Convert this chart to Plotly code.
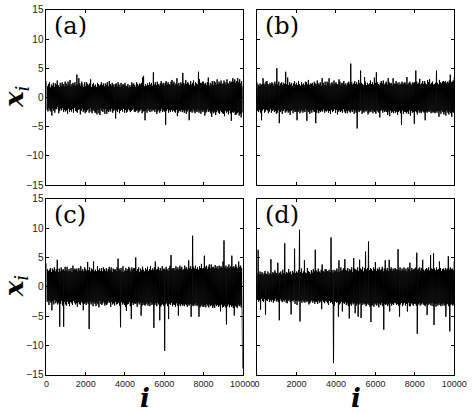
import plotly.graph_objects as go

# sample index i (every 25 steps)
idx = list(range(0, 10001, 25))

series_a = [
    2.8, -2.1, 1.9, -2.4, 2.3, -1.8, 2.6, -2.2, 1.7, -2.4, 2.2, -3.1, 2.0, -1.9, 2.5, -2.3, 1.8, -2.6, 2.4, -2.0,
    2.2, -2.0, 2.9, -1.6, 2.1, -2.7, 1.8, -2.3, 2.5, -1.9, 2.0, -2.2, 2.6, -1.8, 2.3, -2.5, 1.9, -2.1, 2.7, -2.4,
    2.4, -2.2, 2.0, -2.8, 2.7, -1.9, 2.2, -2.5, 3.0, -2.1, 1.9, -2.4, 2.3, -2.0, 2.5, -2.6, 2.1, -1.8, 2.6, -2.3,
    2.0, -2.4, 3.9, -2.6, 2.2, -2.1, 3.3, -2.0, 2.4, -2.9, 2.0, -2.3, 2.7, -1.9, 2.2, -2.5, 1.8, -2.2, 2.6, -2.7,
    1.9, -2.5, 2.6, -2.2, 2.3, -2.0, 2.1, -2.6, 2.4, -1.8, 3.1, -2.4, 1.8, -2.7, 2.3, -2.1, 2.5, -2.3, 2.0, -2.6,
    2.2, -2.6, 1.8, -2.9, 2.5, -2.1, 2.3, -2.7, 2.0, -3.0, 2.2, -1.9, 2.6, -2.3, 2.1, -2.5, 2.4, -2.0, 1.9, -2.8,
    2.4, -2.0, 2.1, -2.8, 2.6, -2.3, 1.9, -2.5, 2.8, -2.1, 2.3, -2.4, 2.0, -1.9, 2.5, -2.6, 2.2, -2.3, 1.8, -2.1,
    2.3, -3.6, 2.4, -2.2, 1.9, -2.5, 2.6, -2.0, 2.2, -2.7, 1.8, -2.3, 2.5, -2.1, 2.0, -2.4, 2.3, -1.9, 2.1, -2.6,
    2.5, -2.1, 2.0, -2.6, 1.9, -2.4, 2.3, -2.0, 1.7, -2.2, 2.1, -2.5, 1.8, -2.3, 2.6, -2.1, 2.2, -1.9, 2.4, -2.4,
    2.1, -2.5, 1.8, -2.3, 2.6, -2.1, 2.3, -2.6, 2.0, -2.4, 2.4, -2.2, 2.2, -2.0, 2.5, -2.7, 3.4, -2.4, 3.7, -2.3,
    1.9, -3.9, 2.3, -2.2, 2.0, -2.6, 2.4, -1.9, 2.1, -2.3, 2.6, -2.5, 2.2, -2.0, 2.5, -2.4, 2.0, -2.1, 4.3, -2.2,
    2.2, -2.5, 2.6, -2.0, 2.1, -2.8, 2.7, -2.4, 2.3, -2.1, 2.0, -2.6, 2.4, -2.3, 2.8, -1.9, 2.2, -2.5, 2.5, -2.2,
    2.0, -2.4, 2.5, -4.7, 2.8, -2.3, 2.2, -2.0, 2.6, -2.6, 2.3, -2.2, 2.1, -2.5, 2.7, -2.1, 3.0, -2.4, 2.4, -2.2,
    2.7, -2.4, 2.1, -2.6, 2.4, -2.1, 3.3, -3.2, 2.2, -2.6, 2.5, -2.3, 2.0, -2.4, 2.6, -2.1, 2.3, -2.5, 4.2, -2.2,
    2.5, -2.6, 2.2, -2.2, 3.0, -2.8, 2.3, -2.4, 2.6, -2.1, 2.4, -3.9, 2.1, -2.5, 2.8, -2.3, 2.2, -2.6, 2.5, -2.0,
    2.9, -2.4, 2.0, -2.7, 2.6, -2.3, 2.4, -2.5, 2.2, -2.1, 4.4, -2.6, 3.1, -2.3, 2.5, -2.8, 2.4, -2.2, 2.7, -2.5,
    2.7, -2.2, 2.3, -3.1, 2.5, -2.6, 2.1, -2.4, 2.6, -2.0, 3.4, -2.5, 2.0, -2.3, 2.5, -2.7, 2.2, -3.3, 2.8, -2.4,
    2.1, -2.7, 2.8, -2.4, 2.6, -3.0, 2.2, -2.5, 3.1, -2.2, 2.3, -2.6, 2.7, -2.8, 2.4, -2.3, 2.9, -2.5, 2.3, -2.7,
    2.4, -2.8, 2.9, -3.2, 2.6, -2.3, 2.2, -2.6, 3.1, -2.4, 2.5, -2.9, 2.3, -2.2, 2.8, -2.7, 2.5, -4.0, 2.7, -2.5,
    3.3, -2.6, 2.7, -2.4, 3.1, -3.0, 2.5, -2.9, 2.8, -2.7, 3.3, -2.5, 2.6, -3.1, 3.1, -2.8, 2.4, -3.4, 2.8, -2.6,
    2.0,
]

series_b = [
    2.6, -2.3, 2.2, -2.5, 2.0, -2.1, 2.4, -2.6, 2.1, -3.9, 2.3, -2.2, 3.3, -2.0, 2.4, -2.6, 2.2, -2.4, 2.7, -2.1,
    2.8, -2.2, 2.3, -2.7, 2.1, -2.4, 2.5, -2.0, 2.2, -2.6, 2.6, -2.3, 2.4, -2.1, 2.0, -2.5, 2.7, -2.3, 2.3, -2.8,
    5.0, -2.6, 2.2, -2.1, 2.7, -4.4, 2.0, -2.5, 2.4, -2.2, 2.6, -2.8, 2.1, -2.3, 2.5, -2.0, 2.3, -2.6, 4.4, -2.4,
    2.3, -2.2, 3.4, -2.6, 2.1, -2.4, 2.6, -3.0, 2.2, -2.3, 2.5, -2.1, 2.0, -2.7, 2.4, -2.2, 2.8, -2.5, 2.2, -2.4,
    2.5, -3.9, 2.1, -2.5, 2.8, -2.2, 2.3, -2.7, 2.0, -2.4, 2.6, -2.1, 2.2, -2.6, 2.4, -2.3, 2.1, -2.5, 2.7, -2.0,
    2.6, -4.0, 2.2, -2.3, 3.0, -2.5, 2.1, -2.8, 2.4, -2.2, 2.3, -2.6, 2.5, -2.1, 2.0, -2.4, 2.7, -2.5, 2.4, -4.4,
    2.2, -2.6, 2.9, -2.1, 2.4, -2.7, 2.2, -2.3, 2.6, -2.5, 2.0, -2.2, 3.3, -2.4, 2.5, -2.0, 2.1, -2.6, 2.7, -2.3,
    2.1, -2.4, 2.7, -2.2, 2.5, -2.6, 3.3, -2.3, 2.0, -2.8, 2.4, -2.1, 2.6, -2.5, 2.2, -2.3, 2.9, -2.0, 2.3, -2.6,
    2.6, -2.1, 2.3, -2.9, 2.2, -2.4, 3.1, -2.2, 2.7, -2.5, 2.1, -2.3, 2.5, -2.6, 2.4, -2.0, 2.8, -2.4, 2.2, -2.7,
    2.4, -2.3, 2.0, -2.7, 2.5, -2.2, 2.7, -2.4, 2.3, -2.6, 5.8, -2.2, 2.6, -2.5, 2.2, -2.1, 2.4, -2.8, 2.8, -2.3,
    2.3, -2.6, 2.6, -5.3, 2.2, -2.2, 3.0, -2.5, 2.4, -2.3, 4.6, -2.1, 2.5, -2.8, 2.3, -2.4, 2.1, -2.6, 3.5, -2.2,
    2.7, -2.4, 2.1, -2.2, 2.5, -2.9, 2.2, -2.6, 2.4, -2.3, 2.9, -2.5, 2.3, -2.1, 2.6, -2.7, 2.2, -2.3, 3.4, -2.5,
    2.5, -2.8, 4.3, -2.2, 2.6, -2.4, 2.3, -2.6, 2.1, -3.4, 2.5, -2.3, 2.8, -2.1, 2.4, -2.6, 2.9, -2.2, 2.2, -2.5,
    2.4, -2.3, 2.7, -2.5, 2.2, -3.0, 3.3, -2.4, 2.6, -3.2, 2.3, -2.2, 2.5, -2.6, 2.1, -2.4, 3.3, -2.7, 2.4, -2.3,
    2.3, -2.6, 2.8, -2.4, 2.5, -3.0, 2.2, -2.5, 2.6, -2.3, 2.1, -2.7, 2.4, -4.7, 2.7, -2.2, 2.3, -2.8, 2.5, -2.4,
    2.6, -2.5, 2.3, -2.7, 3.5, -2.4, 2.2, -2.8, 2.5, -2.2, 2.7, -3.1, 2.4, -2.3, 2.1, -2.6, 2.6, -2.5, 2.4, -4.5,
    2.6, -2.3, 4.6, -2.5, 2.7, -2.9, 2.3, -2.2, 2.5, -2.6, 3.2, -2.4, 2.2, -2.7, 2.4, -2.3, 2.8, -2.5, 2.3, -2.6,
    2.8, -3.9, 2.4, -2.4, 2.2, -2.6, 3.0, -2.3, 2.6, -2.5, 3.1, -2.2, 2.3, -2.7, 2.5, -2.4, 2.7, -2.6, 2.2, -2.5,
    2.3, -2.7, 2.5, -2.4, 4.6, -2.6, 2.5, -2.3, 2.2, -3.3, 3.0, -2.4, 2.6, -2.8, 2.4, -2.2, 2.7, -2.5, 2.8, -2.9,
    2.6, -2.5, 2.8, -3.1, 2.4, -2.2, 2.7, -2.6, 2.5, -2.9, 2.9, -2.4, 3.9, -2.7, 2.6, -3.3, 2.7, -2.5, 2.9, -2.6,
    3.5,
]

series_c = [
    4.0, -2.6, 3.0, -2.3, 2.7, -3.1, 2.9, -2.4, 3.2, -2.7, 2.5, -4.0, 3.1, -2.5, 2.8, -3.0, 3.3, -2.2, 2.6, -2.8,
    3.0, -2.5, 4.6, -3.0, 2.5, -2.7, 3.1, -6.8, 2.6, -2.9, 3.3, -2.4, 2.8, -3.2, 3.0, -6.8, 2.7, -2.6, 3.4, -3.0,
    2.8, -3.2, 3.4, -2.5, 2.6, -2.9, 3.0, -3.3, 2.7, -2.6, 3.2, -2.8, 2.5, -3.1, 3.6, -2.4, 2.9, -2.7, 3.1, -3.0,
    2.9, -2.8, 3.1, -3.4, 2.6, -2.6, 3.2, -2.9, 2.8, -3.1, 3.5, -2.5, 2.7, -2.8, 3.0, -4.0, 2.6, -2.9, 3.3, -2.7,
    3.0, -3.1, 2.7, -2.6, 4.2, -2.9, 2.8, -7.2, 3.3, -2.5, 2.6, -3.0, 3.1, -2.7, 2.9, -3.3, 4.3, -2.6, 2.7, -2.9,
    2.9, -3.3, 2.6, -2.7, 3.5, -3.0, 2.8, -3.5, 3.1, -2.4, 2.7, -2.9, 3.2, -3.1, 2.6, -2.8, 3.3, -2.5, 3.0, -3.2,
    2.7, -2.9, 3.2, -3.1, 2.6, -2.8, 3.0, -2.5, 3.4, -2.7, 2.8, -3.4, 3.3, -2.6, 2.5, -3.0, 3.1, -2.8, 2.9, -3.2,
    3.0, -2.6, 2.7, -3.0, 3.3, -2.9, 4.8, -2.7, 3.1, -3.2, 2.8, -6.9, 3.2, -2.6, 2.6, -3.0, 3.5, -2.8, 2.5, -3.1,
    2.8, -3.4, 3.2, -4.1, 2.7, -3.0, 3.0, -2.9, 3.4, -2.6, 3.1, -3.3, 2.6, -5.5, 3.3, -2.7, 2.9, -3.1, 3.2, -2.8,
    3.2, -2.9, 5.0, -2.8, 2.7, -3.4, 3.0, -2.6, 3.3, -3.0, 2.5, -2.7, 3.1, -4.9, 2.8, -3.2, 3.4, -2.8, 2.9, -3.1,
    2.6, -3.2, 3.2, -3.0, 2.9, -2.7, 3.4, -3.2, 2.7, -2.9, 3.0, -3.3, 3.5, -2.6, 2.8, -3.1, 3.1, -2.9, 2.9, -7.0,
    3.3, -3.1, 4.3, -2.8, 2.9, -3.3, 3.0, -2.7, 3.4, -3.0, 2.8, -5.7, 3.2, -3.4, 2.7, -3.1, 3.5, -2.9, 3.0, -3.2,
    3.1, -10.9, 2.9, -3.0, 3.4, -2.8, 3.0, -3.3, 2.7, -5.5, 3.2, -2.9, 3.6, -3.1, 5.4, -2.7, 3.0, -3.3, 3.2, -3.0,
    3.2, -3.1, 2.8, -3.4, 3.5, -2.8, 3.0, -3.2, 3.3, -4.9, 2.9, -3.0, 3.6, -3.3, 3.1, -2.9, 3.4, -3.2, 2.8, -3.0,
    3.0, -3.3, 3.6, -2.9, 3.1, -3.1, 3.3, -3.4, 2.9, -3.0, 4.5, -3.2, 3.2, -2.9, 3.5, -5.1, 3.0, -3.1, 8.7, -3.3,
    3.4, -3.0, 3.1, -3.2, 3.6, -2.8, 3.0, -3.3, 3.3, -3.1, 2.9, -5.1, 3.5, -3.5, 3.2, -3.3, 3.9, -3.0, 3.1, -3.4,
    3.2, -3.4, 5.3, -3.1, 3.3, -3.5, 3.6, -2.9, 3.0, -3.2, 3.4, -3.5, 3.8, -3.0, 3.1, -3.3, 3.8, -3.1, 3.3, -3.6,
    3.4, -3.2, 3.1, -3.6, 3.7, -3.0, 3.2, -3.3, 3.5, -3.1, 3.0, -3.4, 3.6, -3.2, 3.3, -4.2, 3.5, -3.0, 3.2, -3.5,
    4.3, -3.4, 7.9, -3.2, 3.3, -3.5, 3.6, -6.4, 3.1, -3.3, 3.4, -3.0, 3.8, -3.5, 3.2, -3.1, 3.5, -3.4, 5.3, -3.2,
    3.3, -3.6, 3.5, -4.9, 3.2, -3.2, 3.8, -3.4, 3.4, -3.6, 3.1, -3.0, 4.3, -3.3, 3.4, -3.1, 3.6, -3.5, 3.2, -3.8,
    -13.9,
]

series_d = [
    2.4, -2.2, 6.3, -2.5, 2.1, -2.3, 2.6, -3.9, 2.2, -2.0, 2.5, -2.4, 2.0, -2.6, 2.3, -2.1, 2.7, -4.8, 2.2, -2.3,
    2.2, -2.4, 2.6, -2.1, 2.0, -2.6, 2.3, -2.3, 4.7, -2.5, 2.1, -2.2, 2.5, -2.7, 2.3, -2.4, 2.8, -2.0, 2.4, -2.5,
    2.3, -2.3, 4.1, -2.6, 2.2, -5.7, 2.4, -2.1, 2.6, -2.4, 2.1, -2.6, 2.9, -2.3, 2.3, -2.5, 7.4, -2.2, 2.2, -2.7,
    2.5, -2.8, 2.3, -2.4, 3.0, -2.2, 2.4, -2.6, 2.6, -4.7, 2.1, -2.3, 2.7, -2.5, 2.4, -2.2, 6.5, -2.9, 2.3, -2.4,
    2.6, -3.1, 2.4, -2.3, 2.8, -2.5, 9.7, -5.9, 2.5, -2.4, 3.1, -2.7, 2.3, -2.2, 2.6, -2.6, 4.5, -2.7, 2.4, -2.3,
    2.3, -2.6, 3.2, -2.4, 2.7, -3.0, 2.5, -2.8, 2.2, -2.5, 2.8, -2.3, 2.4, -2.7, 3.0, -2.4, 2.6, -2.9, 6.3, -2.5,
    2.8, -2.6, 2.5, -2.9, 3.1, -2.4, 2.6, -2.7, 2.4, -2.5, 2.9, -3.8, 3.8, -2.3, 2.7, -2.6, 2.5, -2.8, 3.0, -2.4,
    3.0, -2.5, 2.7, -2.8, 2.6, -3.1, 2.9, -2.4, 2.5, -2.7, 8.4, -2.6, 2.8, -2.9, 2.4, -13.0, 2.9, -3.2, 2.6, -2.5,
    2.8, -2.7, 3.1, -2.6, 2.5, -5.1, 4.5, -3.0, 2.6, -2.8, 3.3, -2.5, 2.7, -4.2, 2.9, -2.7, 3.2, -2.9, 4.7, -2.6,
    2.9, -3.1, 2.7, -2.8, 3.2, -3.3, 2.6, -5.4, 3.0, -2.9, 2.8, -3.2, 3.3, -2.7, 2.5, -3.0, 4.9, -2.8, 3.1, -4.5,
    3.0, -3.2, 2.8, -2.9, 3.3, -5.1, 2.7, -3.0, 4.6, -2.8, 3.1, -5.3, 2.9, -3.1, 3.4, -2.7, 2.6, -3.0, 3.2, -2.9,
    6.0, -3.3, 2.9, -3.0, 3.2, -2.8, 7.7, -3.1, 2.8, -3.4, 3.2, -6.0, 3.0, -3.2, 2.7, -3.1, 3.3, -3.4, 3.0, -2.8,
    4.2, -3.0, 2.7, -3.2, 3.1, -2.8, 2.9, -3.5, 3.3, -2.9, 2.8, -3.1, 3.0, -2.7, 3.4, -3.3, 2.6, -7.3, 3.1, -2.9,
    4.5, -3.1, 2.8, -2.9, 3.2, -3.3, 2.7, -3.0, 4.6, -4.2, 3.0, -2.8, 3.3, -3.2, 2.7, -2.9, 3.1, -3.1, 2.9, -2.7,
    3.2, -2.8, 3.0, -3.1, 2.8, -2.9, 6.4, -3.2, 2.9, -5.1, 3.3, -3.0, 2.7, -2.7, 3.1, -3.3, 2.8, -3.0, 3.3, -2.7,
    2.8, -3.2, 3.1, -2.9, 2.6, -4.2, 3.3, -2.7, 3.0, -3.3, 4.1, -3.3, 2.7, -2.8, 3.2, -3.0, 2.9, -3.2, 3.0, -2.9,
    3.1, -2.9, 3.3, -3.2, 5.8, -8.0, 2.9, -3.0, 3.1, -2.8, 3.3, -3.2, 2.8, -3.0, 3.2, -2.7, 4.6, -3.0, 2.9, -3.1,
    2.7, -3.3, 3.0, -2.9, 3.2, -4.8, 2.9, -3.1, 3.3, -2.8, 2.8, -3.0, 5.4, -3.2, 3.1, -2.7, 3.0, -3.3, 5.7, -6.5,
    3.1, -2.9, 2.8, -3.4, 3.3, -3.0, 2.9, -3.2, 3.0, -2.8, 4.3, -3.1, 3.2, -3.3, 2.7, -2.9, 3.0, -3.2, 3.1, -2.8,
    2.8, -3.2, 3.2, -5.1, 2.9, -3.0, 3.1, -2.9, 5.2, -3.3, 2.9, -7.6, 3.3, -3.1, 3.0, -2.9, 3.1, -3.2, 2.8, -3.0,
    4.4,
]

panel_labels = ["(a)", "(b)", "(c)", "(d)"]
x_ticks = [0, 2000, 4000, 6000, 8000, 10000]
y_ticks = [-15, -10, -5, 0, 5, 10, 15]

W, H = 474, 413
# pixel boxes of the four panels: (left, right, top, bottom)
boxes = [(45, 248, 5, 185), (263, 467, 5, 185), (45, 248, 199, 380), (263, 467, 199, 380)]

fig = go.Figure()
layout = dict(
    width=W, height=H, margin=dict(l=0, r=0, t=0, b=0),
    paper_bgcolor="white", plot_bgcolor="white", showlegend=False,
)

ytickfont = dict(family="Liberation Sans, Arial", size=10, color="#222")
xtickfont = dict(family="Liberation Sans, Arial", size=9, color="#222")
annotations = []
all_series = [series_a, series_b, series_c, series_d]
for k, (vals, lab, box) in enumerate(zip(all_series, panel_labels, boxes)):
    assert len(vals) == len(idx), (lab, len(vals))
    n = "" if k == 0 else str(k + 1)
    fig.add_trace(go.Scatter(
        x=idx, y=vals, mode="lines",
        line=dict(color="black", width=1.0, simplify=False),
        xaxis="x" + n, yaxis="y" + n, hoverinfo="skip",
    ))
    l, r, t, b = box
    bottom_row = k >= 2
    left_col = k % 2 == 0
    layout["xaxis" + n] = dict(
        domain=[l / W, r / W], anchor="y" + n, range=[0, 10000],
        tickvals=x_ticks, ticktext=[str(v) for v in x_ticks],
        showticklabels=bottom_row, ticks="inside", ticklen=3, tickcolor="black",
        showline=True, mirror="ticks", linecolor="black", linewidth=1,
        showgrid=False, zeroline=False, tickfont=xtickfont,
    )
    layout["yaxis" + n] = dict(
        domain=[1 - b / H, 1 - t / H], anchor="x" + n, range=[-15, 15],
        tickvals=y_ticks, ticktext=[str(v).replace("-", "\u2212") for v in y_ticks],
        showticklabels=left_col, ticks="inside", ticklen=3, tickcolor="black",
        showline=True, mirror="ticks", linecolor="black", linewidth=1,
        showgrid=False, zeroline=False, tickfont=ytickfont,
    )
    annotations.append(dict(
        text=lab, xref="x" + n + " domain", yref="y" + n + " domain",
        x=0.03, y=1.0, xanchor="left", yanchor="top", showarrow=False,
        font=dict(family="DejaVu Serif, Liberation Serif, serif", size=24, color="black"),
    ))

title_font = dict(family="DejaVu Serif, Liberation Serif, serif", size=26, color="black")
for yc in [(5 + 185) / 2, (199 + 380) / 2]:
    annotations.append(dict(
        text="<b><i>x</i></b><sub><i>i</i></sub>", xref="paper", yref="paper",
        x=13 / W, y=1 - yc / H, xanchor="center", yanchor="middle", textangle=-90,
        showarrow=False, font=title_font,
    ))
for xc in [(45 + 248) / 2, (263 + 467) / 2]:
    annotations.append(dict(
        text="<b><i>i</i></b>", xref="paper", yref="paper",
        x=xc / W, y=1 - 404 / H, xanchor="center", yanchor="middle",
        showarrow=False, font=title_font,
    ))

layout["annotations"] = annotations
fig.update_layout(**layout)
fig.write_html("out.html")
